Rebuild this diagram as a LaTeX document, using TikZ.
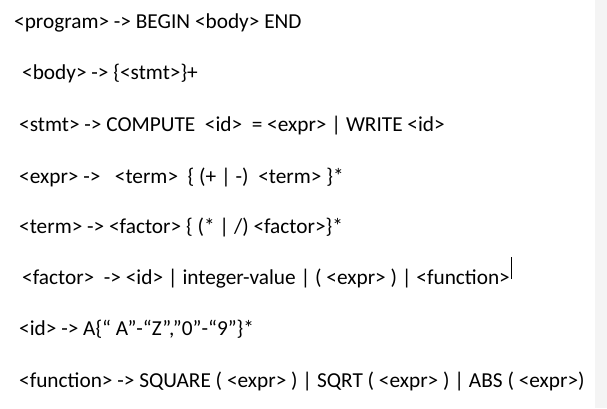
\documentclass[tikz,border=0pt]{standalone}
\usepackage{fontspec}
\setmainfont{Carlito}
\begin{document}
\begin{tikzpicture}[x=1pt,y=-1pt,
    rule/.style={anchor=base west, inner sep=0pt, font=\fontsize{21.3}{25}\selectfont}]
    \useasboundingbox (0,0) rectangle (607,408);
    \fill[gray!9] (595,0) rectangle (607,408);

    \node[rule] at (14,28) (prog) {<program> -> BEGIN <body> END};
    \node[rule] at (22,79) (body) {<body> -> \{<stmt>\}+};
    \node[rule] at (19,131) (stmt) {<stmt> -> COMPUTE\ \ <id>\ \ = <expr> | WRITE <id>};
    \node[rule] at (19,183) (expr) {<expr> ->\ \ \ <term>\ \ \{ (+ | -)\ \ <term> \}*};
    \node[rule] at (19,233) (term) {<term> -> <factor> \{ (* | /) <factor>\}*};
    \node[rule] at (22,284) (fact) {<factor>\ \ -> <id> | integer-value | ( <expr> ) | <function>};
    \node[rule] at (19,335) (id) {<id> -> A\{“ A”-“Z”,”0”-“9”\}*};
    \node[rule] at (19,387) (func) {<function> -> SQUARE ( <expr> ) | SQRT ( <expr> ) | ABS ( <expr>)};

    % text cursor
    \draw[line width=0.7pt] ([xshift=1pt,yshift=5pt]fact.base east) -- ++(0,-22);
\end{tikzpicture}
\end{document}
